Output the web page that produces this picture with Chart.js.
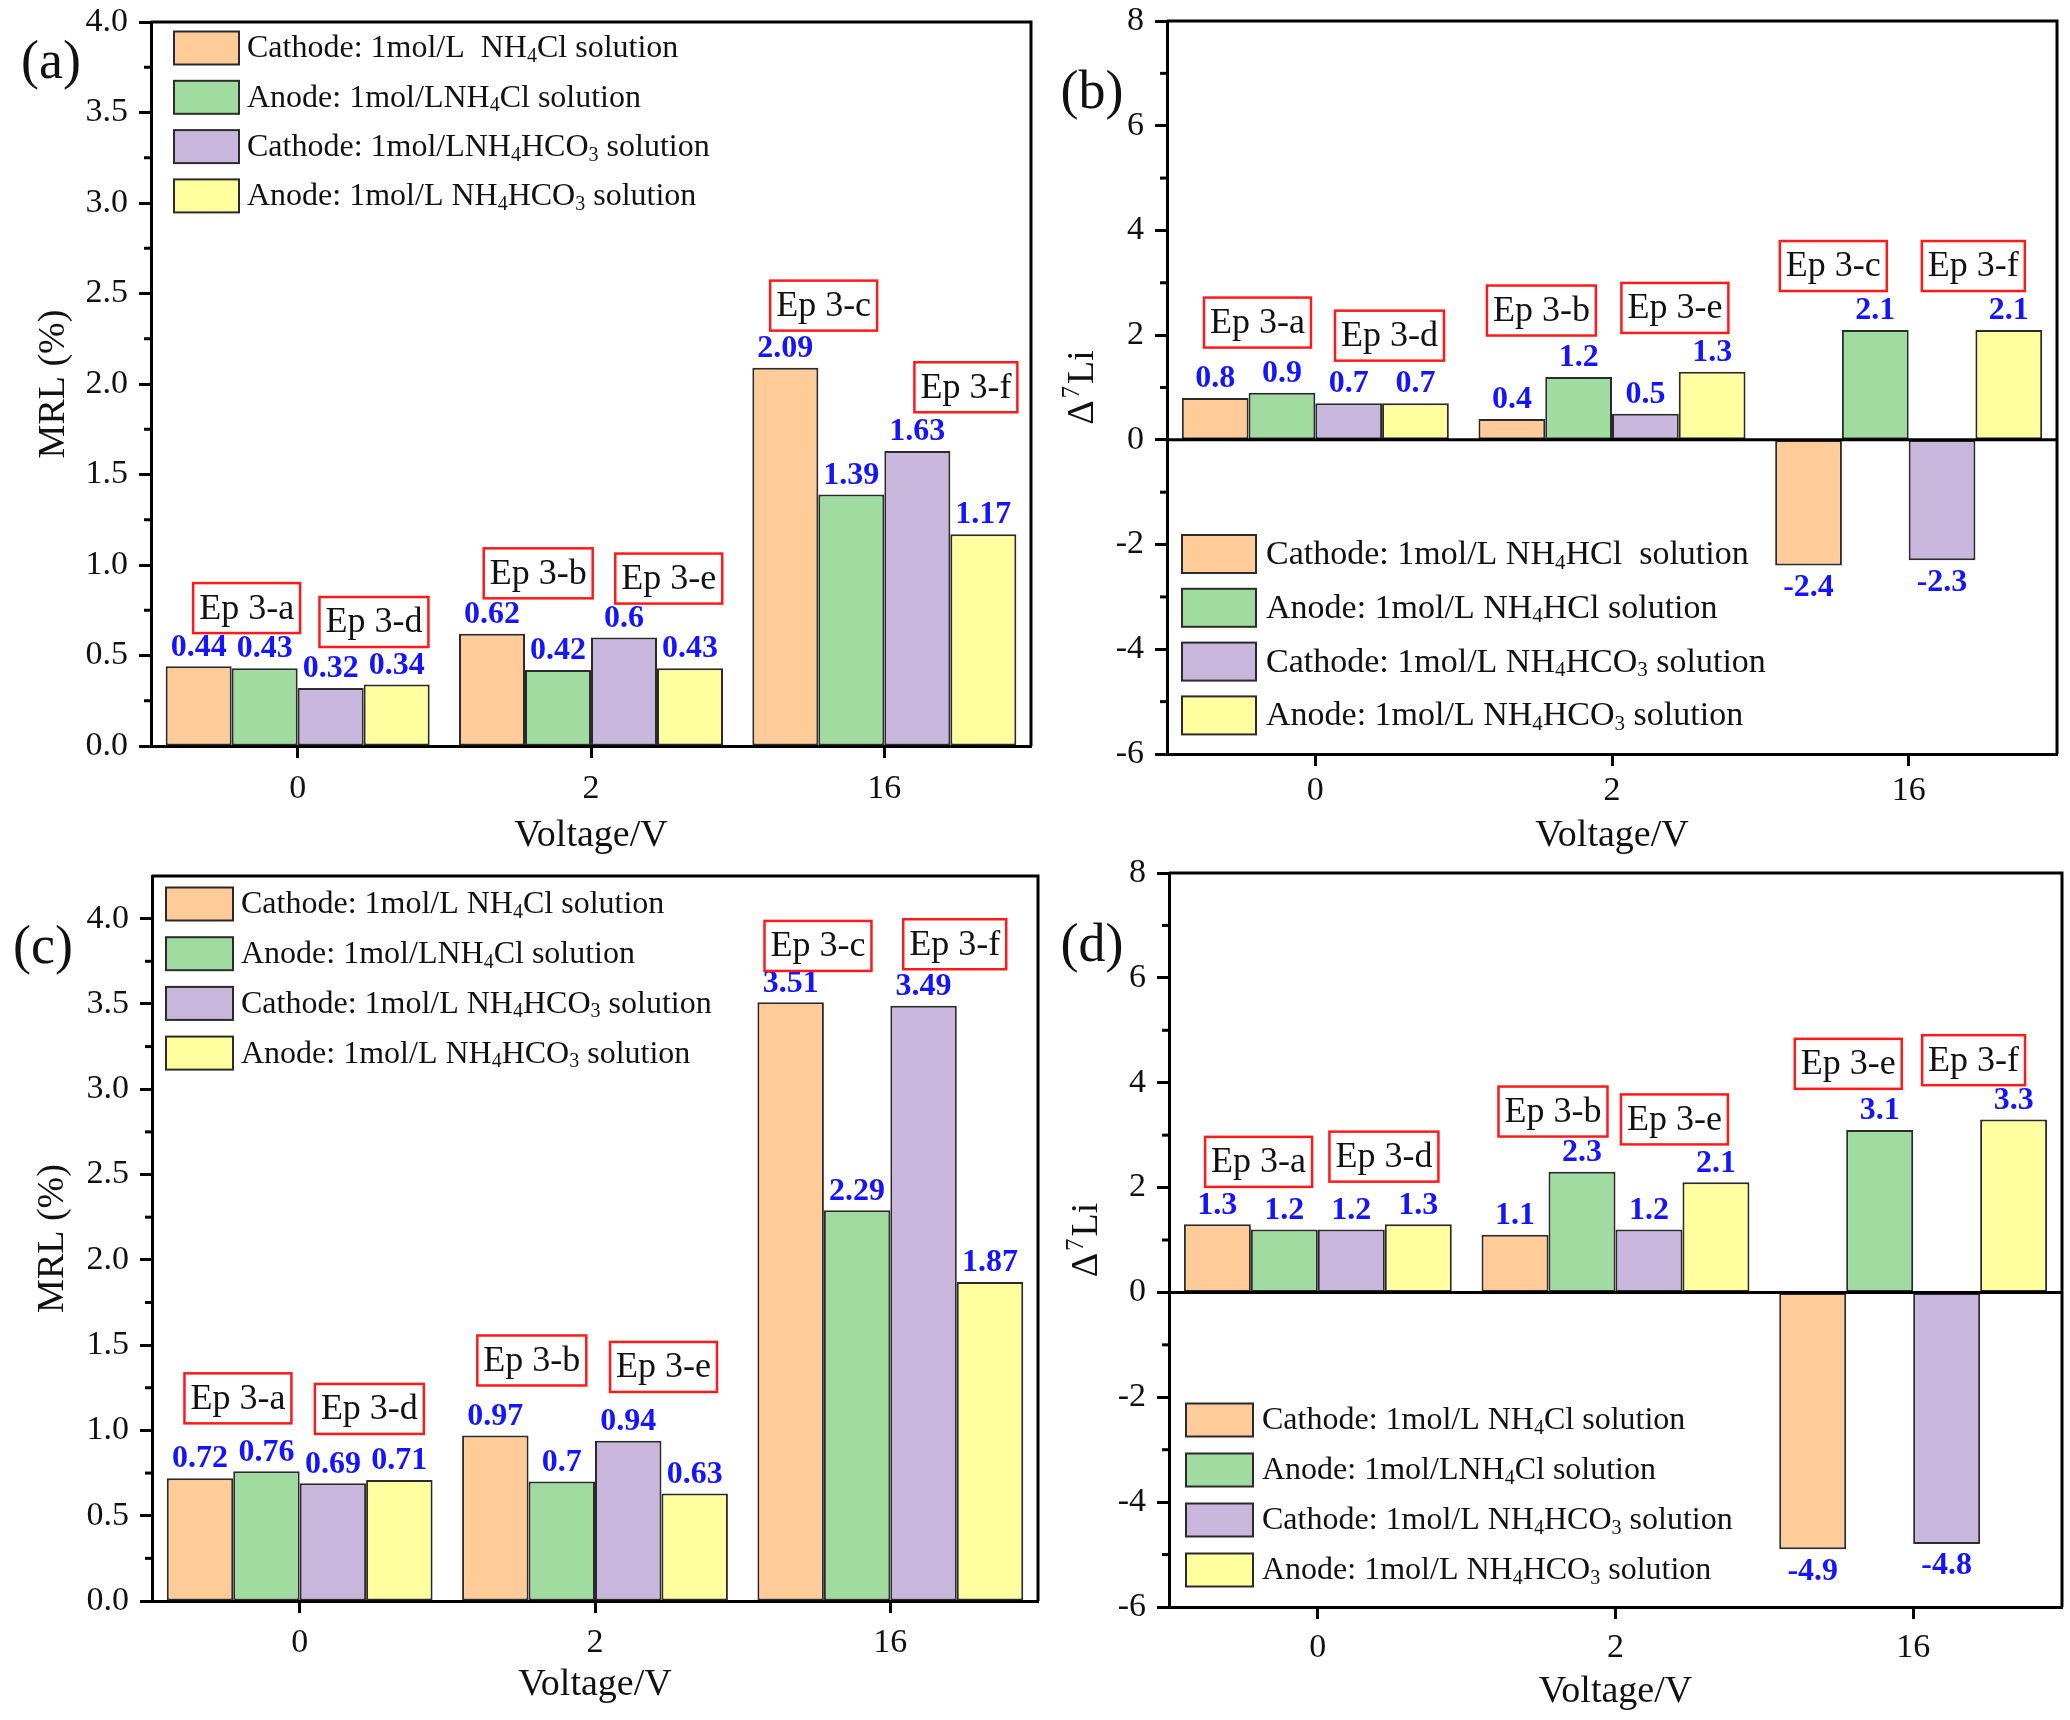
<!DOCTYPE html>
<html>
<head>
<meta charset="utf-8">
<script src="https://cdn.jsdelivr.net/npm/chart.js@4.4.1/dist/chart.umd.min.js"></script>
<style>
  html, body { margin: 0; padding: 0; background: #fff; }
  body { width: 2070px; height: 1720px; position: relative; overflow: hidden; }
  canvas { position: absolute; }
</style>
</head>
<body>
<canvas id="pa"></canvas>
<canvas id="pb"></canvas>
<canvas id="pc"></canvas>
<canvas id="pd"></canvas>
<script>
const voltages = ['0', '2', '16'];

// (a) MRL (%)
const mrlCathodeClA = [0.44, 0.62, 2.09];
const mrlAnodeClA = [0.43, 0.42, 1.39];
const mrlCathodeHco3A = [0.32, 0.6, 1.63];
const mrlAnodeHco3A = [0.34, 0.43, 1.17];

// (b) delta 7Li
const dLiCathodeClB = [0.8, 0.4, -2.4];
const dLiAnodeClB = [0.9, 1.2, 2.1];
const dLiCathodeHco3B = [0.7, 0.5, -2.3];
const dLiAnodeHco3B = [0.7, 1.3, 2.1];

// (c) MRL (%)
const mrlCathodeClC = [0.72, 0.97, 3.51];
const mrlAnodeClC = [0.76, 0.7, 2.29];
const mrlCathodeHco3C = [0.69, 0.94, 3.49];
const mrlAnodeHco3C = [0.71, 0.63, 1.87];

// (d) delta 7Li
const dLiCathodeClD = [1.3, 1.1, -4.9];
const dLiAnodeClD = [1.2, 2.3, 3.1];
const dLiCathodeHco3D = [1.2, 1.2, -4.8];
const dLiAnodeHco3D = [1.3, 2.1, 3.3];

const legendA = ['Cathode: 1mol/L  NH₄Cl solution', 'Anode: 1mol/LNH₄Cl solution',
                 'Cathode: 1mol/LNH₄HCO₃ solution', 'Anode: 1mol/L NH₄HCO₃ solution'];
const legendB = ['Cathode: 1mol/L NH₄HCl  solution', 'Anode: 1mol/L NH₄HCl solution',
                 'Cathode: 1mol/L NH₄HCO₃ solution', 'Anode: 1mol/L NH₄HCO₃ solution'];
const legendC = ['Cathode: 1mol/L NH₄Cl solution', 'Anode: 1mol/LNH₄Cl solution',
                 'Cathode: 1mol/L NH₄HCO₃ solution', 'Anode: 1mol/L NH₄HCO₃ solution'];
const legendD = ['Cathode: 1mol/L NH₄Cl solution', 'Anode: 1mol/LNH₄Cl solution',
                 'Cathode: 1mol/L NH₄HCO₃ solution', 'Anode: 1mol/L NH₄HCO₃ solution'];

const epTagsABC = ['Ep 3-a', 'Ep 3-d', 'Ep 3-b', 'Ep 3-e', 'Ep 3-c', 'Ep 3-f'];
const epTagsD = ['Ep 3-a', 'Ep 3-d', 'Ep 3-b', 'Ep 3-e', 'Ep 3-e', 'Ep 3-f'];

const fills = ['#FFCC99', '#A0DCA0', '#C8B6DC', '#FFFFA0'];
const FONT = '"Liberation Serif", "Times New Roman", serif';
const SUB = { '₀': '0', '₁': '1', '₂': '2', '₃': '3', '₄': '4' };

// draw text with unicode subscript digits lowered and shrunk
function drawRich(ctx, text, x, y, size) {
  let cx = x, run = '';
  const flush = () => {
    if (!run) return;
    ctx.font = size + 'px ' + FONT;
    ctx.fillText(run, cx, y);
    cx += ctx.measureText(run).width;
    run = '';
  };
  for (const ch of text) {
    if (SUB[ch]) {
      flush();
      ctx.font = Math.round(size * 0.62) + 'px ' + FONT;
      ctx.fillText(SUB[ch], cx, y + size * 0.24);
      cx += ctx.measureText(SUB[ch]).width;
    } else {
      run += ch;
    }
  }
  flush();
}

const figurePlugin = {
  id: 'figure',
  afterDatasetsDraw(chart, args, o) {
    const { ctx, chartArea: ca, scales: { x, y } } = chart;
    ctx.save();
    ctx.strokeStyle = '#000';
    ctx.lineWidth = 3;

    // minor ticks on y
    for (let v = y.min + o.minor; v < y.max - 1e-9; v += o.minor * 2) {
      const py = y.getPixelForValue(v);
      ctx.beginPath(); ctx.moveTo(ca.left - 7, py); ctx.lineTo(ca.left, py); ctx.stroke();
    }
    // frame top / right
    ctx.beginPath();
    ctx.moveTo(ca.left, ca.top); ctx.lineTo(ca.right, ca.top); ctx.lineTo(ca.right, ca.bottom);
    ctx.stroke();
    if (o.zeroLine) {
      const p0 = y.getPixelForValue(0);
      ctx.beginPath(); ctx.moveTo(ca.left, p0); ctx.lineTo(ca.right, p0); ctx.stroke();
    }

    // value labels
    ctx.fillStyle = '#1414ff';
    ctx.font = 'bold 32px ' + FONT;
    ctx.textAlign = 'center';
    chart.data.datasets.forEach((ds, i) => {
      chart.getDatasetMeta(i).data.forEach((bar, j) => {
        const v = ds.data[j];
        if (v >= 0) { ctx.textBaseline = 'bottom'; ctx.fillText(String(v), bar.x, bar.y - 3); }
        else { ctx.textBaseline = 'top'; ctx.fillText(String(v), bar.x, bar.y + 6); }
      });
    });

    // experiment tags in red boxes
    ctx.font = '36px ' + FONT;
    ctx.textBaseline = 'middle';
    o.tags.forEach((t, i) => {
      const px = x.getPixelForValue(o.tagPos[i][0]);
      const py = y.getPixelForValue(o.tagPos[i][1]);
      const w = ctx.measureText(t).width + 12;
      const h = 50;
      ctx.fillStyle = '#111';
      ctx.fillText(t, px, py + 1);
      ctx.strokeStyle = '#ff1a1a';
      ctx.lineWidth = 2.5;
      ctx.strokeRect(px - w / 2, py - h / 2, w, h);
    });

    // legend
    const L = o.legendBox;
    ctx.textAlign = 'left';
    ctx.textBaseline = 'middle';
    chart.data.datasets.forEach((ds, i) => {
      const cy = L.y + i * L.dy;
      ctx.fillStyle = ds.backgroundColor;
      ctx.fillRect(L.x, cy - L.bh / 2, L.bw, L.bh);
      ctx.strokeStyle = '#2b2b2b';
      ctx.lineWidth = 2;
      ctx.strokeRect(L.x, cy - L.bh / 2, L.bw, L.bh);
      ctx.fillStyle = '#111';
      drawRich(ctx, ds.label, L.tx, cy + 1, L.size);
    });

    // y title with superscript (delta 7Li panels)
    if (o.supTitle) {
      const [base, sup, rest, tx] = o.supTitle;
      ctx.save();
      ctx.translate(tx, (ca.top + ca.bottom) / 2);
      ctx.rotate(-Math.PI / 2);
      ctx.fillStyle = '#111';
      ctx.textBaseline = 'middle';
      ctx.font = '38px ' + FONT;
      const w1 = ctx.measureText(base).width, w3 = ctx.measureText(rest).width;
      ctx.font = '25px ' + FONT;
      const w2 = ctx.measureText(sup).width;
      let cx = -(w1 + w2 + w3 + 4) / 2;
      ctx.font = '38px ' + FONT;
      ctx.fillText(base, cx, 0);
      cx += w1 + 2;
      ctx.font = '25px ' + FONT;
      ctx.fillText(sup, cx, -11);
      cx += w2 + 2;
      ctx.font = '38px ' + FONT;
      ctx.fillText(rest, cx, 0);
      ctx.restore();
    }

    // panel letter
    ctx.fillStyle = '#111';
    ctx.font = '54px ' + FONT;
    ctx.textAlign = 'center';
    ctx.textBaseline = 'middle';
    ctx.fillText(o.letter[0], o.letter[1], o.letter[2]);
    ctx.restore();
  }
};

function makePanel(id, cfg) {
  const el = document.getElementById(id);
  el.width = cfg.w;
  el.height = cfg.h;
  el.style.left = cfg.left + 'px';
  el.style.top = cfg.top + 'px';
  const a = cfg.area;
  return new Chart(el, {
    type: 'bar',
    data: {
      labels: voltages,
      datasets: cfg.series.map((vals, i) => ({
        label: cfg.legend[i],
        data: vals,
        backgroundColor: fills[i],
        borderColor: '#2b2b2b',
        borderWidth: 2,
        borderSkipped: false,
        categoryPercentage: 0.9,
        barPercentage: 1.0
      }))
    },
    options: {
      responsive: false,
      animation: false,
      devicePixelRatio: 1,
      layout: { padding: { top: a.top, right: cfg.w - a.right, left: 0, bottom: 0 } },
      plugins: {
        legend: { display: false },
        tooltip: { enabled: false },
        figure: {
          minor: cfg.minor, zeroLine: cfg.zeroLine, tags: cfg.tags, tagPos: cfg.tagPos,
          legendBox: cfg.legendBox, letter: cfg.letter, supTitle: cfg.supTitle
        }
      },
      scales: {
        x: {
          grid: { offset: false, drawOnChartArea: false, tickLength: 12, tickWidth: 3, tickColor: '#000' },
          border: { color: '#000', width: 3 },
          ticks: { font: { family: FONT, size: 34 }, color: '#111', padding: cfg.xPad },
          title: { display: true, text: 'Voltage/V', color: '#111',
                   font: { family: FONT, size: 38 }, padding: { top: 0, bottom: cfg.xTitlePad } },
          afterFit: s => { s.height = cfg.h - a.bottom; s.paddingLeft = 0; s.paddingRight = 0; }
        },
        y: {
          min: cfg.yMin,
          max: cfg.yMax,
          grid: { drawOnChartArea: false, tickLength: 12, tickWidth: 3, tickColor: '#000' },
          border: { color: '#000', width: 3 },
          ticks: { stepSize: cfg.step, includeBounds: false, font: { family: FONT, size: 34 }, color: '#111',
                   padding: 11, callback: cfg.fmt },
          title: { display: !cfg.supTitle, text: cfg.yTitle, color: '#111',
                   font: { family: FONT, size: 38 }, padding: { top: cfg.yTitlePad, bottom: 0 } },
          afterFit: s => { s.width = a.left; s.paddingTop = 0; s.paddingBottom = 0; }
        }
      }
    },
    plugins: [figurePlugin]
  });
}

const oneDecimal = v => v.toFixed(1);
const integer = v => String(v);

makePanel('pa', {
  left: 0, top: 0, w: 1035, h: 860,
  area: { left: 151, right: 1031, top: 22, bottom: 746 },
  series: [mrlCathodeClA, mrlAnodeClA, mrlCathodeHco3A, mrlAnodeHco3A],
  legend: legendA,
  yMin: 0, yMax: 4, step: 0.5, minor: 0.25, fmt: oneDecimal, zeroLine: false,
  yTitle: 'MRL (%)', yTitlePad: 31, xPad: 11, xTitlePad: 1,
  tags: epTagsABC,
  tagPos: [[-0.174, 0.762], [0.26, 0.685], [0.82, 0.954], [1.265, 0.925], [1.793, 2.433], [2.278, 1.982]],
  legendBox: { x: 174, y: 48, dy: 49.3, bw: 65, bh: 33, tx: 247, size: 32 },
  letter: ['(a)', 51, 64]
});

makePanel('pb', {
  left: 1035, top: 0, w: 1035, h: 860,
  area: { left: 132, right: 1022, top: 21, bottom: 754 },
  series: [dLiCathodeClB, dLiAnodeClB, dLiCathodeHco3B, dLiAnodeHco3B],
  legend: legendB,
  yMin: -6, yMax: 8, step: 2, minor: 1, fmt: integer, zeroLine: true,
  yTitle: 'Δ⁷Li', supTitle: ['Δ', '7', 'Li', 48], xPad: 5, xTitlePad: 1,
  tags: epTagsABC,
  tagPos: [[-0.195, 2.24], [0.25, 1.99], [0.762, 2.47], [1.212, 2.52], [1.746, 3.32], [2.218, 3.32]],
  legendBox: { x: 147, y: 554, dy: 53.8, bw: 74, bh: 38, tx: 231, size: 34 },
  letter: ['(b)', 57, 94]
});

makePanel('pc', {
  left: 0, top: 860, w: 1042, h: 860,
  area: { left: 152, right: 1038, top: 16, bottom: 741 },
  series: [mrlCathodeClC, mrlAnodeClC, mrlCathodeHco3C, mrlAnodeHco3C],
  legend: legendC,
  yMin: 0, yMax: 4.25, step: 0.5, minor: 0.25, fmt: oneDecimal, zeroLine: false,
  yTitle: 'MRL (%)', yTitlePad: 30, xPad: 10, xTitlePad: 12,
  tags: epTagsABC,
  tagPos: [[-0.209, 1.188], [0.236, 1.126], [0.786, 1.41], [1.232, 1.372], [1.755, 3.84], [2.218, 3.85]],
  legendBox: { x: 166, y: 44, dy: 49.7, bw: 67, bh: 33, tx: 241, size: 32 },
  letter: ['(c)', 43, 89]
});

makePanel('pd', {
  left: 1035, top: 860, w: 1035, h: 860,
  area: { left: 134, right: 1027, top: 13, bottom: 747 },
  series: [dLiCathodeClD, dLiAnodeClD, dLiCathodeHco3D, dLiAnodeHco3D],
  legend: legendD,
  yMin: -6, yMax: 8, step: 2, minor: 1, fmt: integer, zeroLine: true,
  yTitle: 'Δ⁷Li', supTitle: ['Δ', '7', 'Li', 52], xPad: 9, xTitlePad: 5,
  tags: epTagsD,
  tagPos: [[-0.199, 2.49], [0.222, 2.59], [0.79, 3.45], [1.198, 3.30], [1.782, 4.36], [2.203, 4.43]],
  legendBox: { x: 151, y: 560, dy: 50, bw: 67, bh: 33, tx: 227, size: 32 },
  letter: ['(d)', 57, 87]
});
</script>
</body>
</html>
